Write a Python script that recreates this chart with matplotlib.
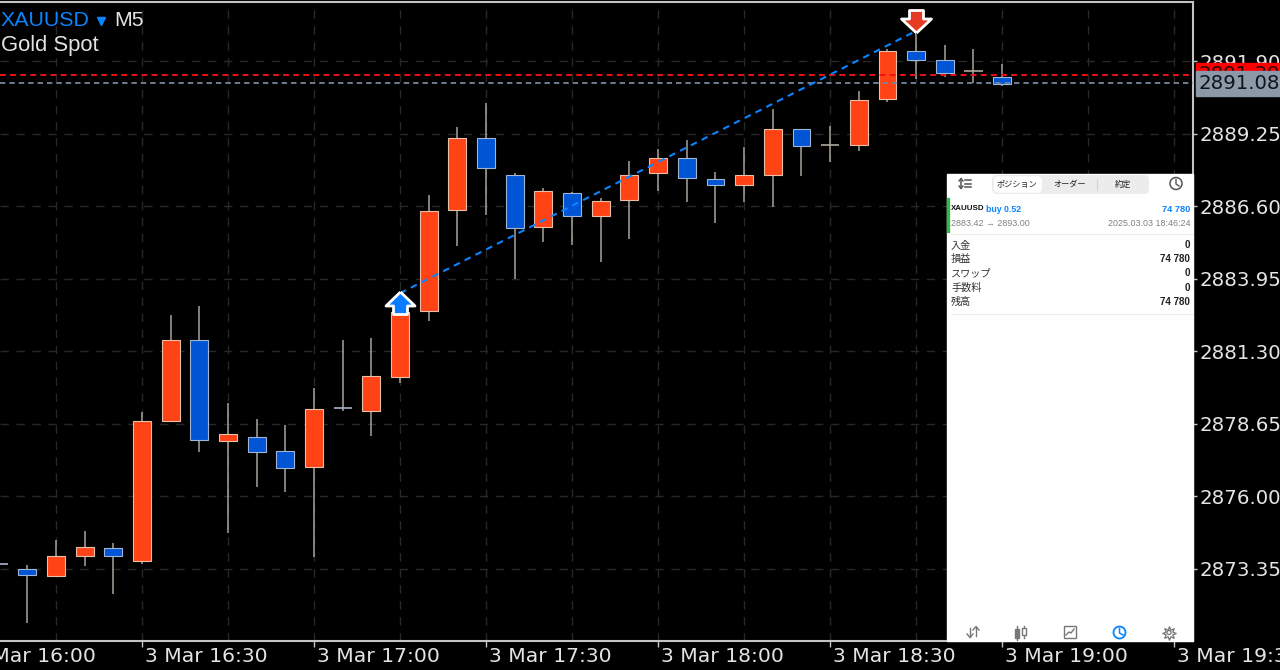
import matplotlib
matplotlib.use('Agg')
import matplotlib.pyplot as plt
from matplotlib.path import Path
from matplotlib.patches import Rectangle, FancyBboxPatch, Circle
from matplotlib.transforms import blended_transform_factory, ScaledTranslation

# minutes since midnight, one candle every 5 minutes (first one is 16:05)
times = [965 + 5 * i for i in range(36)]

opens = [2873.56, 2873.34, 2873.09, 2873.81, 2874.12, 2873.65, 2878.74, 2881.70, 2878.02, 2878.18, 2877.67,
         2877.06, 2879.23, 2879.12, 2880.35, 2882.77, 2886.45, 2889.08, 2887.73, 2885.84, 2887.07, 2886.24,
         2886.82, 2887.80, 2888.37, 2887.60, 2887.37, 2887.75, 2889.43, 2888.83, 2888.83, 2890.51, 2892.27,
         2891.94, 2891.52, 2891.33]
closes = [2873.54, 2873.12, 2873.82, 2874.15, 2873.84, 2878.74, 2881.72, 2878.05, 2878.27, 2877.63, 2877.04,
          2879.21, 2879.20, 2880.40, 2882.73, 2886.41, 2889.10, 2887.98, 2885.81, 2887.16, 2886.24, 2886.78,
          2887.74, 2888.35, 2887.62, 2887.37, 2887.74, 2889.43, 2888.81, 2888.84, 2890.48, 2892.28, 2891.93,
          2891.45, 2891.53, 2891.06]
highs = [2873.58, 2873.50, 2874.41, 2874.74, 2874.29, 2879.09, 2882.63, 2882.95, 2879.42, 2878.82, 2878.61,
         2879.96, 2881.71, 2881.80, 2883.36, 2887.00, 2889.50, 2890.36, 2887.80, 2887.25, 2887.13, 2886.91,
         2888.24, 2888.69, 2889.02, 2887.85, 2888.76, 2890.14, 2889.43, 2889.53, 2890.82, 2892.34, 2892.89,
         2892.48, 2892.33, 2891.78]
lows = [2873.52, 2871.39, 2873.09, 2873.45, 2872.44, 2873.53, 2878.74, 2877.62, 2874.68, 2876.36, 2876.17,
        2873.79, 2879.12, 2878.21, 2880.13, 2882.42, 2885.16, 2886.28, 2883.95, 2885.28, 2885.17, 2884.55,
        2885.40, 2887.15, 2886.75, 2885.98, 2886.75, 2886.58, 2887.71, 2888.22, 2888.61, 2890.40, 2891.23,
        2891.30, 2891.09, 2890.99]

price_ticks = [2873.35, 2876.00, 2878.65, 2881.30, 2883.95, 2886.60, 2889.25, 2891.90]
time_ticks = [990, 1020, 1050, 1080, 1110, 1140, 1170]
time_labels = ['3 Mar 16:30', '3 Mar 17:00', '3 Mar 17:30', '3 Mar 18:00', '3 Mar 18:30', '3 Mar 19:00', '3 Mar 19:30']
first_time = 960
first_label = '3 Mar 16:00'
grid_times = [975 + 15 * i for i in range(14)]

bid_price = 2891.08
ask_price = 2891.39
entry_time = 1035
entry_price = 2883.42
exit_time = 1125
exit_price = 2893.00

row_names = ['入金', '損益', 'スワップ', '手数料', '残高']
row_values = ['0', '74 780', '0', '0', '74 780']
row_y = [245, 259, 273, 288, 302]
tab_names = ['ポジション', 'オーダー', '約定']
tab_x = [1017, 1070, 1123]

ORANGE = '#ff4315'
BLUE = '#0055d5'
LINK_BLUE = '#0a84ff'
WICK = '#a8a498'
GRID = '#282828'
FRAME = '#c4c4c4'

fig = plt.figure(figsize=(12.8, 6.7), dpi=100, facecolor='black')
ax = fig.add_axes([0, 29 / 670, 1193 / 1280, 639 / 670], facecolor='black')
ax.set_axisbelow(True)

for t in grid_times:
    ax.axvline(t, color=GRID, lw=1, dashes=(6, 5.5), zorder=1)
for p in price_ticks:
    ax.axhline(p, color=GRID, lw=1, dashes=(6, 5.5), zorder=1)

# candles
for t, o, c, h, l in zip(times, opens, closes, highs, lows):
    ax.vlines(t, l, h, color=WICK, lw=1.1, zorder=3)
    if abs(o - c) < 0.08:
        ax.hlines((o + c) / 2, t - 1.6, t + 1.6, color='#a9b4c4' if o > c else '#b0a89c', lw=1.2, zorder=4)
        continue
    up = c > o
    ax.bar(t, abs(c - o), width=3.1, bottom=min(o, c), color=ORANGE if up else BLUE,
           edgecolor='#e8bfa8' if up else '#a0b4d4', linewidth=0.8, zorder=4)

ax.axhline(ask_price, color='#ee1111', lw=1.4, dashes=(3, 2.2), zorder=5)
ax.axhline(bid_price, color='#76869a', lw=1.3, dashes=(3, 2.2), zorder=5)
ax.plot([entry_time, exit_time], [entry_price, exit_price], color=LINK_BLUE, lw=1.5, dashes=(3.2, 2.6), zorder=6)

# trade arrows, vertices are in pixels around the tip
up_verts = [(0, 1.5), (-14.5, -12.5), (-7, -12.5), (-7, -21), (7, -21), (7, -12.5), (14.5, -12.5), (0, 1.5)]
down_verts = [(0, -1.5), (-15, 12.5), (-7, 12.5), (-7, 21), (7, 21), (7, 12.5), (15, 12.5), (0, -1.5)]
ax.plot(entry_time, entry_price, marker=Path(up_verts), markersize=1.44 * 21, mfc='#0a7cff', mec='white',
        mew=2, zorder=7, clip_on=False)
ax.plot(exit_time, exit_price, marker=Path(down_verts), markersize=1.44 * 21, mfc='#e53a24', mec='white',
        mew=2, zorder=7, clip_on=False)

ax.spines['left'].set_visible(False)
for side in ['top', 'right', 'bottom']:
    ax.spines[side].set_color(FRAME)
    ax.spines[side].set_linewidth(1.5)

ax.yaxis.tick_right()
ax.set_yticks(price_ticks)
ax.set_yticklabels(['%.2f' % p for p in price_ticks])
ax.tick_params(axis='y', colors=FRAME, labelcolor='#e4e4e4', labelsize=14.2, length=3, width=1, pad=1.5)
ax.set_xticks(time_ticks)
ax.set_xticklabels(time_labels, ha='left')
ax.tick_params(axis='x', colors=FRAME, labelcolor='#e4e4e4', labelsize=14.6, length=4, width=1, pad=0)
shift = ScaledTranslation(3 / 100, 0, fig.dpi_scale_trans)
for lab in ax.get_xticklabels():
    lab.set_transform(lab.get_transform() + shift)
# after the ticks, set_xticks widens the limits
ax.set_xlim(965.23, 1173.3)
ax.set_ylim(2870.72, 2894.055)

# the 16:00 tick lies left of the frame so the axis drops it
under = blended_transform_factory(ax.transData, ax.transAxes)
ax.text(first_time, -6 / 639, first_label, transform=under + shift, color='#e4e4e4', fontsize=14.6, ha='left',
        va='top', clip_on=False)

# price tags on the right
tag = blended_transform_factory(ax.transAxes, ax.transData)
ax.add_patch(Rectangle((1.0025, ask_price - 0.44), 0.09, 0.88, transform=tag, color='#ff0000', zorder=8, clip_on=False))
ax.text(1.005, ask_price, '%.2f' % ask_price, transform=tag, color='#300000', fontsize=14.2, va='center', zorder=9,
        clip_on=False)
ax.add_patch(Rectangle((1.0025, bid_price - 0.45), 0.09, 0.9, transform=tag, color='#8b99a8', zorder=10, clip_on=False))
ax.text(1.005, bid_price, '%.2f' % bid_price, transform=tag, color='#101418', fontsize=14.2, va='center', zorder=11,
        clip_on=False)

# overlay in pixels for the header and the trade panel
ui = fig.add_axes([0, 0, 1, 1], facecolor='none', zorder=20)
ui.set_xlim(0, 1280)
ui.set_ylim(670, 0)
ui.axis('off')

ui.text(1, 20, 'XAUUSD', color=LINK_BLUE, fontsize=15.4, family='Liberation Sans', va='center')
ui.plot(101, 20.5, marker='v', color=LINK_BLUE, ms=5.5)
ui.text(114, 20, 'M5', color='#e4e4e4', fontsize=15.4, family='Liberation Sans', va='center')
ui.text(1, 46, 'Gold Spot', color='#e4e4e4', fontsize=15.8, family='Liberation Sans', va='center')

ui.add_patch(Rectangle((947, 174), 246, 467, color='white', zorder=1))
ui.add_patch(FancyBboxPatch((993, 176), 155, 17, boxstyle='round,pad=0,rounding_size=4', fc='#ececec', ec='#ececec',
                            lw=1.5, zorder=2))
ui.add_patch(FancyBboxPatch((994.5, 177), 46.5, 15, boxstyle='round,pad=0,rounding_size=3', fc='white', ec='white',
                            lw=1, zorder=3))
ui.plot([1096.5, 1096.5], [179, 190], color='#d4d4d4', lw=0.8, zorder=3)
jp = ['Noto Sans CJK JP', 'DejaVu Sans']
for name, x in zip(tab_names, tab_x):
    ui.text(x, 184.5, name, color='#222222', fontsize=5.9, family=jp, ha='center', va='center', zorder=4)

# sort icon and clock
ui.plot([961, 961], [179, 188], color='#555555', lw=1.1, zorder=4)
ui.plot([959, 961, 963], [181, 178.5, 181], color='#555555', lw=1, zorder=4)
ui.plot([959, 961, 963], [186, 188.5, 186], color='#555555', lw=1, zorder=4)
for y in [180, 183.5, 187]:
    ui.plot([965, 971], [y, y], color='#555555', lw=1.1, zorder=4)
ui.add_patch(Circle((1176, 183.5), 6, fc='none', ec='#555555', lw=1.1, zorder=4))
ui.plot([1176, 1176, 1179], [179.5, 184, 186], color='#555555', lw=1, zorder=4)

ui.add_patch(Rectangle((947, 198), 2.2, 34, color='#34b84a', zorder=4))
ui.text(951, 209, 'XAUUSD', color='#111111', fontsize=5.7, family='Liberation Sans', weight='bold', va='center',
        zorder=4)
ui.text(986, 209, 'buy 0.52', color=LINK_BLUE, fontsize=6.3, family='Liberation Sans', weight='bold', va='center',
        zorder=4)
ui.text(1190, 209, '74 780', color=LINK_BLUE, fontsize=6.7, family='Liberation Sans', weight='bold', ha='right',
        va='center', zorder=4)
ui.text(951, 223, '2883.42 → 2893.00', color='#808080', fontsize=6.4, family='Liberation Sans', va='center', zorder=4)
ui.text(1190, 223, '2025.03.03 18:46:24', color='#808080', fontsize=6.4, family='Liberation Sans', ha='right',
        va='center', zorder=4)
ui.plot([951, 1193], [233.5, 233.5], color='#ececec', lw=0.8, zorder=4)
ui.plot([951, 1193], [313.5, 313.5], color='#ececec', lw=0.8, zorder=4)

for name, value, y in zip(row_names, row_values, row_y):
    ui.text(951, y, name, color='#333333', fontsize=7.3, family=jp, va='center', zorder=4)
    ui.text(1190, y, value, color='#222222', fontsize=7.1, family='Liberation Sans', weight='bold', ha='right',
            va='center', zorder=4)

# bottom tab bar icons
ICON = '#777777'
ui.plot([970, 970], [628, 637], color=ICON, lw=1, zorder=4)
ui.plot([967, 970, 973], [634, 637.5, 634], color=ICON, lw=1, zorder=4)
ui.plot([976, 976], [627, 636], color=ICON, lw=1, zorder=4)
ui.plot([973, 976, 979], [630, 626.5, 630], color=ICON, lw=1, zorder=4)
ui.plot([1017, 1017], [626, 640], color=ICON, lw=1, zorder=4)
ui.plot([1024, 1024], [626, 638], color=ICON, lw=1, zorder=4)
ui.add_patch(Rectangle((1015, 629), 4, 9, color=ICON, zorder=5))
ui.add_patch(Rectangle((1022, 628), 4, 7, fc='white', ec=ICON, lw=1, zorder=5))
ui.add_patch(Rectangle((1064, 626), 12, 12, fc='white', ec=ICON, lw=1, zorder=4))
ui.plot([1066, 1069, 1071, 1074], [635, 632, 633, 629], color=ICON, lw=1, zorder=5)
ui.add_patch(Circle((1119.5, 632.5), 6, fc='none', ec=LINK_BLUE, lw=1.3, zorder=4))
ui.plot([1119.5, 1119.5, 1123], [628.5, 633, 635], color=LINK_BLUE, lw=1.1, zorder=4)
ui.plot(1169, 632.5, marker=(8, 1, 0), ms=10, mfc='white', mec=ICON, mew=0.9, zorder=4)
ui.add_patch(Circle((1169, 632.5), 2, fc='white', ec=ICON, lw=0.9, zorder=5))

fig.savefig('out.png', dpi=100, facecolor='black')
